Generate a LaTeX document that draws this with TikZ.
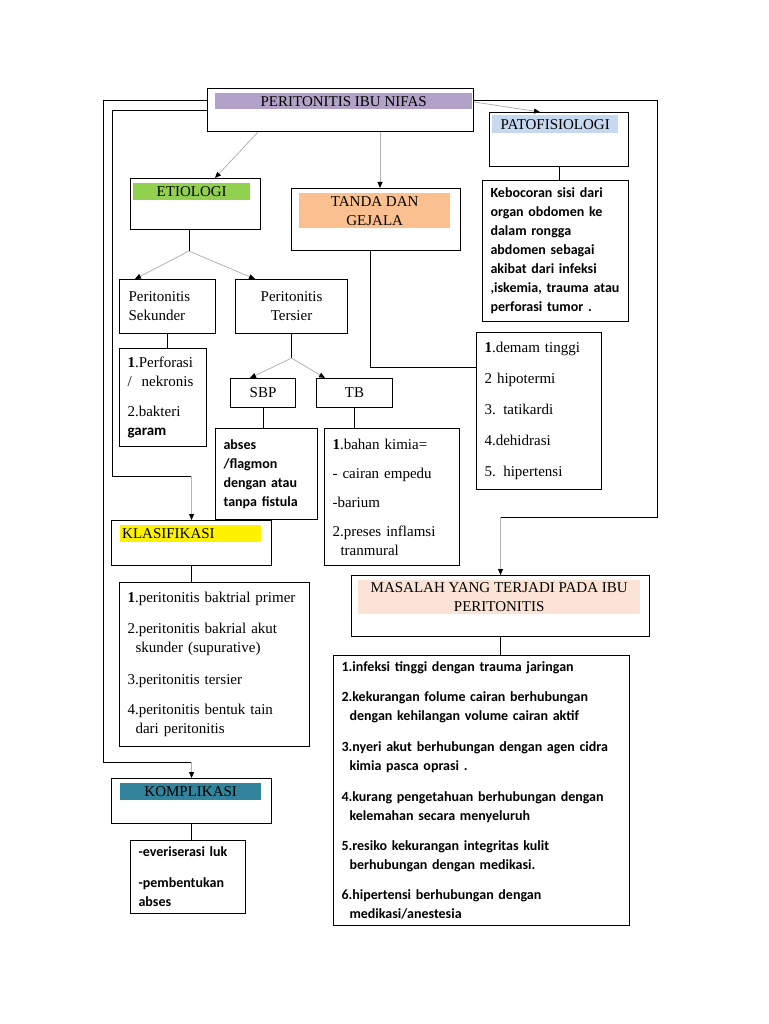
\documentclass[tikz,border=0pt]{standalone}
\usepackage{fontspec}
\setmainfont{Liberation Serif}
\newfontfamily\calibri{Carlito}
\usetikzlibrary{arrows.meta}

\definecolor{lavender}{RGB}{178,162,199}
\definecolor{paleblue}{RGB}{198,217,241}
\definecolor{leafgreen}{RGB}{146,208,80}
\definecolor{apricot}{RGB}{250,192,144}
\definecolor{seateal}{RGB}{49,132,155}
\definecolor{peach}{RGB}{251,228,213}

\begin{document}
\begin{tikzpicture}[x=1pt,y=-1pt,
    box/.style={draw, line width=1.1pt, anchor=north west, inner sep=0pt},
    band/.style={fill=#1, anchor=north west, inner sep=0pt, align=center,
      font=\fontsize{15}{19}\selectfont},
    plain/.style={box, align=center, font=\fontsize{15}{19}\selectfont},
    listbox/.style={box, align=left, inner xsep=8pt, font=\fontsize{15}{19}\selectfont},
    sansbox/.style={listbox, font=\calibri\bfseries\fontsize{14}{19}\selectfont},
    link/.style={line width=0.9pt},
    garrow/.style={draw=gray!60, line width=0.8pt, -{Triangle[black,length=6pt,width=5pt]}}]
  \useasboundingbox (0,0) rectangle (768,1024);

  % title and patofisiologi
  \node[box, minimum width=266, minimum height=43] (top) at (207,88) {};
  \node[band=lavender, minimum width=257, minimum height=16] (topband) at (215,93) {PERITONITIS IBU NIFAS};
  \node[box, minimum width=139, minimum height=54] (pato) at (489,112) {};
  \node[band=paleblue, minimum width=126, minimum height=18] (patoband) at (492,115) {PATOFISIOLOGI};
  \node[sansbox, text width=130, minimum height=141] (patotext) at (482,180)
    {Kebocoran sisi dari\\organ obdomen ke\\dalam rongga\\abdomen sebagai\\akibat dari infeksi\\,iskemia, trauma atau\\perforasi tumor .};

  % etiologi
  \node[box, minimum width=130, minimum height=51] (etio) at (130,178) {};
  \node[band=leafgreen, minimum width=117, minimum height=17] (etioband) at (133,183) {ETIOLOGI};
  \node[box, align=left, inner xsep=9pt, text width=78, minimum height=54,
    font=\fontsize{15}{19}\selectfont] (sek) at (119,279) {Peritonitis\\Sekunder};
  \node[plain, minimum width=112, minimum height=54] (ter) at (235,279) {Peritonitis\\Tersier};
  \node[listbox, text width=71, minimum height=98] (seklist) at (119,348)
    {\textbf{1}.Perforasi\\/\ \ nekronis\\[11pt]2.bakteri\\{\calibri\bfseries garam}};
  \node[plain, minimum width=65, minimum height=29] (sbp) at (230,378) {SBP};
  \node[plain, minimum width=76, minimum height=29] (tb) at (316,378) {TB};
  \node[sansbox, text width=86, minimum height=91] (abses) at (215,428)
    {abses\\/flagmon\\dengan atau\\tanpa fistula};
  \node[listbox, text width=119, minimum height=137] (tblist) at (324,428)
    {\textbf{1}.bahan kimia=\\[10pt]- cairan empedu\\[10pt]-barium\\[10pt]2.preses inflamsi\\\hspace*{8pt}tranmural};

  % tanda dan gejala
  \node[box, minimum width=169, minimum height=62] (tanda) at (291,188) {};
  \node[band=apricot, minimum width=151, minimum height=35] (tandaband) at (299,193) {TANDA DAN\\GEJALA};
  \node[listbox, text width=109, minimum height=157] (tandalist) at (476,332)
    {\textbf{1}.demam tinggi\\[12pt]2 hipotermi\\[12pt]3. tatikardi\\[12pt]4.dehidrasi\\[12pt]5. hipertensi};

  % masalah
  \node[box, minimum width=298, minimum height=61] (masalah) at (351,575) {};
  \node[band=peach, minimum width=282, minimum height=34] (masalahband) at (358,580)
    {MASALAH YANG TERJADI PADA IBU\\PERITONITIS};
  \node[sansbox, text width=280, minimum height=270] (masalahlist) at (333,655)
    {1.infeksi tinggi dengan trauma jaringan\\[11pt]
     2.kekurangan folume cairan berhubungan\\\hspace*{8pt}dengan kehilangan volume cairan aktif\\[12pt]
     3.nyeri akut berhubungan dengan agen cidra\\\hspace*{8pt}kimia pasca oprasi .\\[12pt]
     4.kurang pengetahuan berhubungan dengan\\\hspace*{8pt}kelemahan secara menyeluruh\\[11pt]
     5.resiko kekurangan integritas kulit\\\hspace*{8pt}berhubungan dengan medikasi.\\[11pt]
     6.hipertensi berhubungan dengan\\\hspace*{8pt}medikasi/anestesia};

  % klasifikasi and komplikasi
  \node[box, minimum width=160, minimum height=45] (klas) at (111,520) {};
  \node[band=yellow, minimum width=141, minimum height=17, text width=137, align=left,
    inner xsep=2pt] (klasband) at (120,525) {KLASIFIKASI};
  \node[listbox, text width=174, minimum height=164] (klaslist) at (119,582)
    {\textbf{1}.peritonitis baktrial primer\\[12pt]2.peritonitis bakrial akut\\\hspace*{8pt}skunder (supurative)\\[13pt]
     3.peritonitis tersier\\[11pt]4.peritonitis bentuk tain\\\hspace*{8pt}dari peritonitis};
  \node[box, minimum width=160, minimum height=45] (kompl) at (111,778) {};
  \node[band=seateal, minimum width=141, minimum height=17] (komplband) at (120,783) {KOMPLIKASI};
  \node[sansbox, text width=99, minimum height=73] (kompllist) at (130,840)
    {-everiserasi luk\\[12pt]-pembentukan\\abses};

  % arrows from the title
  \draw[garrow] ([xshift=51pt]top.south west) -- ([xshift=85pt]etio.north west);
  \draw[garrow] ([xshift=173pt]top.south west) -- ([xshift=89pt]tanda.north west);
  \draw[garrow] ([yshift=-14pt]top.north east) -- ([xshift=51pt]pato.north west);
  \draw[link] (pato.south) -- (pato.south |- patotext.north);

  % etiologi branches
  \draw[link] ([xshift=59pt]etio.south west) -- ++(0,21) coordinate (etfork);
  \draw[garrow] (etfork) -- ([xshift=16pt]sek.north west);
  \draw[garrow] (etfork) -- ([xshift=20pt]ter.north west);
  \draw[link] (sek.south) -- (sek.south |- seklist.north);
  \draw[link] (ter.south) -- ++(0,24) coordinate (terfork);
  \draw[garrow] (terfork) -- ([xshift=20pt]sbp.north west);
  \draw[garrow] (terfork) -- ([xshift=9pt]tb.north west);
  \draw[link] (sbp.south) -- (sbp.south |- abses.north);
  \draw[link] (tb.south) -- (tb.south |- tblist.north);
  \draw[link] ([xshift=79pt]tanda.south west) |- ([yshift=-35pt]tandalist.north west);

  % frame lines
  \coordinate (rframe) at (657,517);
  \coordinate (lframe) at (103,762);
  \coordinate (iframe) at (112,476);
  \draw[link] ([yshift=-12pt]top.north east) -| (rframe) -- (rframe -| masalah.north) coordinate (rturn);
  \draw[garrow] (rturn) -- (masalah.north);
  \draw[link] (masalah.south) -- (masalah.south |- masalahlist.north);
  \draw[link] ([yshift=-12pt]top.north west) -| (lframe) -- (lframe -| kompl.north) coordinate (lturn);
  \draw[garrow] (lturn) -- (kompl.north);
  \draw[link] ([yshift=-22pt]top.north west) -| (iframe) -- (iframe -| klas.north) coordinate (iturn);
  \draw[garrow] (iturn) -- (klas.north);
  \draw[link] (klas.south) -- (klas.south |- klaslist.north);
  \draw[link] (kompl.south) -- (kompl.south |- kompllist.north);
\end{tikzpicture}
\end{document}
